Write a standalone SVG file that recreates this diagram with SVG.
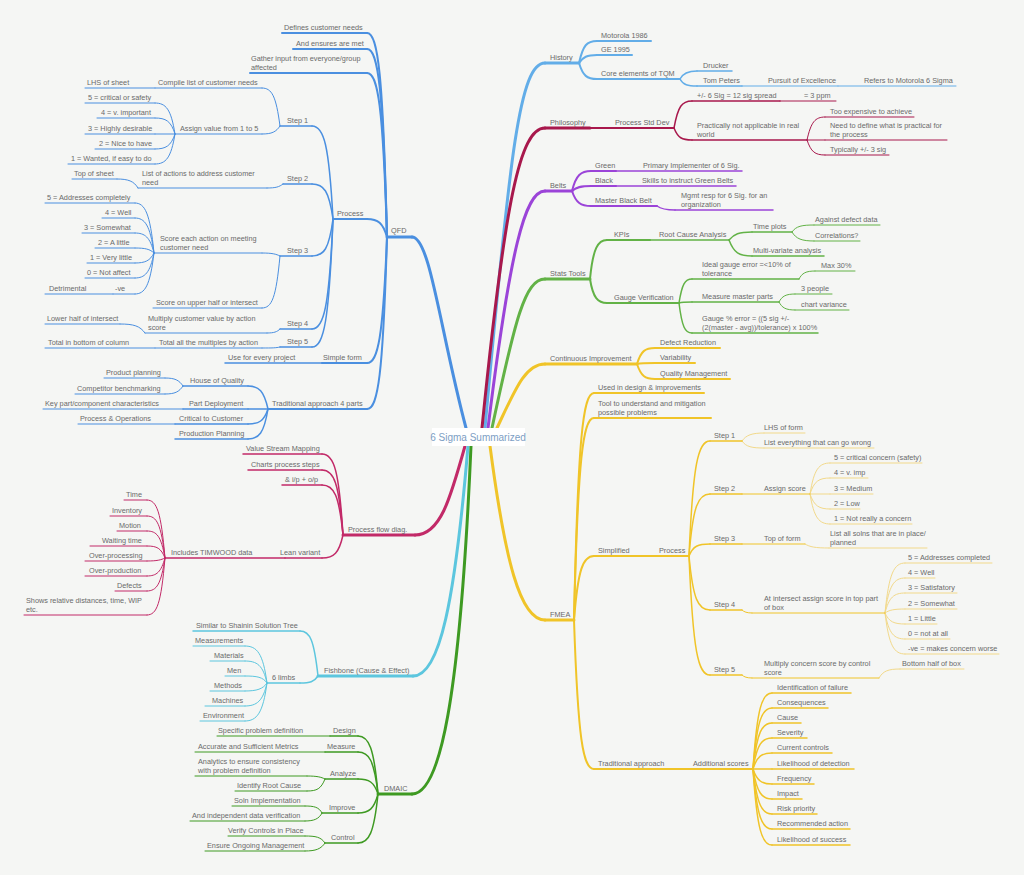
<svg xmlns="http://www.w3.org/2000/svg" width="1024" height="875" viewBox="0 0 1024 875">
<style>
text{font-family:"Liberation Sans",Arial,sans-serif;font-size:7.3px;fill:#6a6a6a;stroke:none}
path{fill:none;stroke-linecap:round}
.bl{stroke:#4a8fe0}.hb{stroke:#62ade8}.ph{stroke:#a8184c}.pu{stroke:#9b44d8}.gr{stroke:#62b246}.yl{stroke:#f0c428}.yp{stroke:#f2d98a}
.pf{stroke:#c22a68}.fb{stroke:#5cc6de}.dm{stroke:#3e9a22}
.w3{stroke-width:3}.w2{stroke-width:2}.w15{stroke-width:1.5}.w1{stroke-width:1}
</style>
<rect width="1024" height="875" fill="#f5f6f4"/>
<g id="connectors">
<path class="bl w3" d="M466 428 C440 330 430 237 412 237"/>
<path class="pf w3" d="M465 446 C450 500 440 535 415 535"/>
<path class="fb w3" d="M468 446 C455 600 440 676 413 676"/>
<path class="dm w3" d="M471 446 C460 700 440 794 412 794"/>
<path class="hb w3" d="M485 428 C510 150 520 63 545 63"/>
<path class="ph w3" d="M482 428 C505 200 520 128 545 128"/>
<path class="pu w3" d="M488 428 C510 250 525 191 545 191"/>
<path class="gr w3" d="M492 428 C515 320 525 279 545 279"/>
<path class="yl w3" d="M497 428 C515 390 525 364 545 364"/>
<path class="yl w3" d="M490 446 C505 560 520 620 545 620"/>
<!-- QFD -->
<path class="bl w2" d="M387 237 C383 74 378 33 367 33"/>
<path class="bl w2" d="M387 237 C383 87 378 49 367 49"/>
<path class="bl w2" d="M387 237 C383 106 378 73 367 73"/>
<path class="bl w2" d="M387 237 C383 223 378 219 367 219"/>
<path class="bl w2" d="M387 237 C383 338 378 363 367 363"/>
<path class="bl w2" d="M387 237 C383 375 378 409 367 409"/>
<path class="bl w15" d="M333 219 C329 145 324 126 312 126"/>
<path class="bl w15" d="M333 219 C329 191 324 184 312 184"/>
<path class="bl w15" d="M333 219 C329 249 324 256 312 256"/>
<path class="bl w15" d="M333 219 C329 307 324 329 312 329"/>
<path class="bl w15" d="M333 219 C329 321 324 347 312 347"/>
<path class="bl w1" d="M280 126 C276 96 272 88 262 88"/>
<path class="bl w1" d="M280 126 C276 132 272 134 262 134"/>
<path class="bl w1" d="M175 134 C171 109 166 103 155 103"/>
<path class="bl w1" d="M175 134 C171 121 166 118 155 118"/>
<path class="bl w1" d="M175 134 H155"/>
<path class="bl w1" d="M175 134 C171 146 166 149 155 149"/>
<path class="bl w1" d="M175 134 C171 158 166 164 155 164"/>
<path class="bl w1" d="M283 184 C279 187 276 188 267 188"/>
<path class="bl w1" d="M138 188 C134 181 128 179 117 179"/>
<path class="bl w1" d="M280 256 C276 254 272 253 262 253"/>
<path class="bl w1" d="M280 256 C276 298 272 308 262 308"/>
<path class="bl w1" d="M154 253 C150 213 145 203 135 203"/>
<path class="bl w1" d="M154 253 C150 225 145 218 135 218"/>
<path class="bl w1" d="M154 253 C150 237 145 233 135 233"/>
<path class="bl w1" d="M154 253 C150 249 145 248 135 248"/>
<path class="bl w1" d="M154 253 C150 261 145 263 135 263"/>
<path class="bl w1" d="M154 253 C150 273 145 278 135 278"/>
<path class="bl w1" d="M154 253 C150 286 145 294 135 294"/>
<path class="bl w1" d="M280 329 C277 332 274 333 267 333"/>
<path class="bl w1" d="M145 333 C140 326 134 324 120 324"/>
<path class="bl w1" d="M280 347 C276 348 272 348 262 348"/>
<path class="bl w15" d="M268 409 C264 391 259 386 248 386"/>
<path class="bl w15" d="M268 409 H248"/>
<path class="bl w15" d="M268 409 C264 421 259 424 248 424"/>
<path class="bl w15" d="M268 409 C264 433 259 439 248 439"/>
<path class="bl w1" d="M183 386 C179 380 175 378 165 378"/>
<path class="bl w1" d="M183 386 C179 392 175 394 165 394"/>
<!-- process flow -->
<path class="pf w15" d="M343 535 C339 470 334 454 322 454"/>
<path class="pf w15" d="M343 535 C339 483 334 470 322 470"/>
<path class="pf w15" d="M343 535 C339 495 334 485 322 485"/>
<path class="pf w15" d="M343 535 C339 553 334 558 322 558"/>
<path class="pf w1" d="M165 558 C161 512 157 500 147 500"/>
<path class="pf w1" d="M165 558 C161 524 157 516 147 516"/>
<path class="pf w1" d="M165 558 C161 536 157 531 147 531"/>
<path class="pf w1" d="M165 558 C161 548 157 546 147 546"/>
<path class="pf w1" d="M165 558 C161 560 157 561 147 561"/>
<path class="pf w1" d="M165 558 C161 572 157 576 147 576"/>
<path class="pf w1" d="M165 558 C161 584 157 591 147 591"/>
<path class="pf w1" d="M165 558 C161 604 157 615 147 615"/>
<!-- fishbone -->
<path class="fb w15" d="M318 676 C314 640 310 631 300 631"/>
<path class="fb w15" d="M318 676 C314 682 310 683 300 683"/>
<path class="fb w1" d="M267 683 C263 653 257 646 245 646"/>
<path class="fb w1" d="M267 683 C263 665 257 661 245 661"/>
<path class="fb w1" d="M267 683 C263 677 257 676 245 676"/>
<path class="fb w1" d="M267 683 C263 689 257 691 245 691"/>
<path class="fb w1" d="M267 683 C263 701 257 706 245 706"/>
<path class="fb w1" d="M267 683 C263 713 257 721 245 721"/>
<!-- DMAIC -->
<path class="dm w15" d="M378 794 C374 748 369 736 358 736"/>
<path class="dm w15" d="M378 794 C374 760 369 752 358 752"/>
<path class="dm w15" d="M378 794 C374 782 369 779 358 779"/>
<path class="dm w15" d="M378 794 C374 809 369 813 358 813"/>
<path class="dm w15" d="M378 794 C374 833 369 843 358 843"/>
<path class="dm w1" d="M325 779 C321 777 317 776 307 776"/>
<path class="dm w1" d="M325 779 C321 789 317 791 307 791"/>
<path class="dm w1" d="M322 813 C319 807 314 806 305 806"/>
<path class="dm w1" d="M322 813 C319 819 314 821 305 821"/>
<path class="dm w1" d="M325 843 C321 837 316 836 305 836"/>
<path class="dm w1" d="M325 843 C321 849 316 851 305 851"/>
<!-- History -->
<path class="hb w2" d="M579 63 C583 45 587 41 597 41"/>
<path class="hb w2" d="M579 63 C583 57 587 55 597 55"/>
<path class="hb w2" d="M579 63 C583 76 587 79 597 79"/>
<path class="hb w15" d="M680 79 C683 73 688 71 697 71"/>
<path class="hb w15" d="M680 79 C683 85 688 86 697 86"/>
<!-- Philosophy -->
<path class="ph w15" d="M674 128 C678 106 682 101 692 101"/>
<path class="ph w15" d="M674 128 C678 138 682 140 692 140"/>
<path class="ph w1" d="M807 140 C811 122 815 117 825 117"/>
<path class="ph w1" d="M807 140 H825"/>
<path class="ph w1" d="M807 140 C811 152 815 155 825 155"/>
<!-- Belts -->
<path class="pu w2" d="M572 191 C576 175 581 171 591 171"/>
<path class="pu w2" d="M572 191 C576 187 581 186 591 186"/>
<path class="pu w2" d="M572 191 C576 203 581 206 591 206"/>
<path class="pu w15" d="M657 206 C661 209 665 210 675 210"/>
<!-- Stats -->
<path class="gr w2" d="M590 279 C593 248 598 240 607 240"/>
<path class="gr w2" d="M590 279 C593 298 598 303 607 303"/>
<path class="gr w15" d="M729 240 C734 234 739 232 752 232"/>
<path class="gr w15" d="M729 240 C734 253 739 256 752 256"/>
<path class="gr w1" d="M792 232 C796 226 802 225 814 225"/>
<path class="gr w1" d="M792 232 C796 239 802 241 814 241"/>
<path class="gr w15" d="M679 303 C682 284 685 279 692 279"/>
<path class="gr w15" d="M679 303 C682 302 685 302 692 302"/>
<path class="gr w15" d="M679 303 C682 327 685 333 692 333"/>
<path class="gr w1" d="M799 279 C802 273 806 271 815 271"/>
<path class="gr w1" d="M779 302 C782 296 786 294 795 294"/>
<path class="gr w1" d="M779 302 C782 308 786 310 795 310"/>
<!-- CI -->
<path class="yl w2" d="M637 364 C641 351 645 348 655 348"/>
<path class="yl w2" d="M637 364 C641 363 645 363 655 363"/>
<path class="yl w2" d="M637 364 C641 376 645 379 655 379"/>
<!-- FMEA -->
<path class="yl w2" d="M574 620 C578 438 583 393 594 393"/>
<path class="yl w2" d="M574 620 C578 458 583 418 594 418"/>
<path class="yl w2" d="M574 620 C578 569 583 556 594 556"/>
<path class="yl w2" d="M574 620 C578 739 583 769 594 769"/>
<path class="yl w15" d="M689 556 C693 464 698 441 710 441"/>
<path class="yl w15" d="M689 556 C693 506 698 494 710 494"/>
<path class="yl w15" d="M689 556 C693 546 698 544 710 544"/>
<path class="yl w15" d="M689 556 C693 599 698 610 710 610"/>
<path class="yl w15" d="M689 556 C693 651 698 675 710 675"/>
<path class="yp w1" d="M742 441 C746 435 752 433 764 433"/>
<path class="yp w1" d="M742 441 C746 447 752 448 764 448"/>
<path class="yp w1" d="M810 494 C814 469 819 463 830 463"/>
<path class="yp w1" d="M810 494 C814 481 819 478 830 478"/>
<path class="yp w1" d="M810 494 H830"/>
<path class="yp w1" d="M810 494 C814 506 819 509 830 509"/>
<path class="yp w1" d="M810 494 C814 518 819 524 830 524"/>
<path class="yp w1" d="M805 544 C810 547 815 548 829 548"/>
<path class="yl w1" d="M742 610 C744 612 747 613 752 613"/>
<path class="yp w1" d="M885 613 C889 573 894 563 905 563"/>
<path class="yp w1" d="M885 613 C889 585 894 578 905 578"/>
<path class="yp w1" d="M885 613 C889 597 894 593 905 593"/>
<path class="yp w1" d="M885 613 C889 610 894 609 905 609"/>
<path class="yp w1" d="M885 613 C889 622 894 624 905 624"/>
<path class="yp w1" d="M885 613 C889 634 894 639 905 639"/>
<path class="yp w1" d="M885 613 C889 646 894 654 905 654"/>
<path class="yl w1" d="M742 675 C744 677 747 678 752 678"/>
<path class="yp w1" d="M879 678 C883 671 888 669 900 669"/>
<path class="yl w15" d="M753 769 C757 708 762 693 772 693"/>
<path class="yl w15" d="M753 769 C757 720 762 708 772 708"/>
<path class="yl w15" d="M753 769 C757 732 762 723 772 723"/>
<path class="yl w15" d="M753 769 C757 744 762 738 772 738"/>
<path class="yl w15" d="M753 769 C757 756 762 753 772 753"/>
<path class="yl w15" d="M753 769 H772"/>
<path class="yl w15" d="M753 769 C757 781 762 784 772 784"/>
<path class="yl w15" d="M753 769 C757 793 762 799 772 799"/>
<path class="yl w15" d="M753 769 C757 805 762 814 772 814"/>
<path class="yl w15" d="M753 769 C757 817 762 829 772 829"/>
<path class="yl w15" d="M753 769 C757 830 762 845 772 845"/>
</g>

<g id="root"><rect x="432" y="428" width="93" height="18" fill="#ffffff"/><text x="478" y="441" text-anchor="middle" style="font-size:10px;fill:#7d9ec4">6 Sigma Summarized</text></g>

<!-- QFD branch -->
<g id="qfd" class="bl w3"><path d="M387 237 H412"/><text x="391" y="233">QFD</text></g>
<g id="q1" class="bl w2"><path d="M282 33 H367"/><text x="284" y="30">Defines customer needs</text></g>
<g id="q2" class="bl w2"><path d="M293 49 H367"/><text x="296" y="46">And ensures are met</text></g>
<g id="q3" class="bl w2"><path d="M250 73 H367"/><text x="251" y="61">Gather input from everyone/group</text><text x="251" y="70">affected</text></g>
<g id="q4" class="bl w2"><path d="M333 219 H367"/><text x="337" y="216">Process</text></g>
<g id="q5" class="bl w2"><path d="M322 363 H367"/><text x="323" y="360">Simple form</text></g>
<g id="q6" class="bl w2"><path d="M268 409 H367"/><text x="272" y="406">Traditional approach 4 parts</text></g>
<g id="s1" class="bl w15"><path d="M280 126 H312"/><text x="287" y="123">Step 1</text></g>
<g id="s2" class="bl w15"><path d="M283 184 H312"/><text x="287" y="181">Step 2</text></g>
<g id="s3" class="bl w15"><path d="M280 256 H312"/><text x="287" y="253">Step 3</text></g>
<g id="s4" class="bl w15"><path d="M280 329 H312"/><text x="287" y="326">Step 4</text></g>
<g id="s5" class="bl w15"><path d="M280 347 H312"/><text x="287" y="344">Step 5</text></g>
<g id="s1a" class="bl w1"><path d="M155 88 H262"/><text x="158" y="85">Compile list of customer needs</text></g>
<g id="s1a1" class="bl w1"><path d="M85 88 H155"/><text x="87" y="85">LHS of sheet</text></g>
<g id="s1b" class="bl w1"><path d="M175 134 H262"/><text x="180" y="131">Assign value from 1 to 5</text></g>
<g id="v5" class="bl w1"><path d="M85 103 H155"/><text x="88" y="100">5 = critical or safety</text></g>
<g id="v4" class="bl w1"><path d="M97 118 H155"/><text x="101" y="115">4 = v. important</text></g>
<g id="v3" class="bl w1"><path d="M85 134 H155"/><text x="88" y="131">3 = Highly desirable</text></g>
<g id="v2" class="bl w1"><path d="M95 149 H155"/><text x="99" y="146">2 = Nice to have</text></g>
<g id="v1" class="bl w1"><path d="M68 164 H155"/><text x="71" y="161">1 = Wanted, if easy to do</text></g>
<g id="s2a" class="bl w1"><path d="M138 188 H267"/><text x="142" y="176">List of actions to address customer</text><text x="142" y="185">need</text></g>
<g id="s2a1" class="bl w1"><path d="M72 179 H117"/><text x="74" y="176">Top of sheet</text></g>
<g id="s3a" class="bl w1"><path d="M154 253 H262"/><text x="160" y="241">Score each action on meeting</text><text x="160" y="250">customer need</text></g>
<g id="s3b" class="bl w1"><path d="M153 308 H262"/><text x="156" y="305">Score on upper half or intersect</text></g>
<g id="a5" class="bl w1"><path d="M45 203 H135"/><text x="47" y="200">5 = Addresses completely</text></g>
<g id="a4" class="bl w1"><path d="M102 218 H135"/><text x="105" y="215">4 = Well</text></g>
<g id="a3" class="bl w1"><path d="M82 233 H135"/><text x="84" y="230">3 = Somewhat</text></g>
<g id="a2" class="bl w1"><path d="M95 248 H135"/><text x="98" y="245">2 = A little</text></g>
<g id="a1" class="bl w1"><path d="M87 263 H135"/><text x="90" y="260">1 = Very little</text></g>
<g id="a0" class="bl w1"><path d="M85 278 H135"/><text x="87" y="275">0 = Not affect</text></g>
<g id="an" class="bl w1"><path d="M113 294 H135"/><text x="115" y="291">-ve</text></g>
<g id="an1" class="bl w1"><path d="M45 294 H113"/><text x="49" y="291">Detrimental</text></g>
<g id="s4a" class="bl w1"><path d="M145 333 H267"/><text x="148" y="321">Multiply customer value by action</text><text x="148" y="330">score</text></g>
<g id="s4a1" class="bl w1"><path d="M45 324 H120"/><text x="47" y="321">Lower half of intersect</text></g>
<g id="s5a" class="bl w1"><path d="M155 348 H262"/><text x="159" y="345">Total all the multiples by action</text></g>
<g id="s5a1" class="bl w1"><path d="M45 348 H155"/><text x="48" y="345">Total in bottom of column</text></g>
<g id="q5a" class="bl w15"><path d="M225 363 H322"/><text x="228" y="360">Use for every project</text></g>
<g id="t1" class="bl w15"><path d="M183 386 H248"/><text x="190" y="383">House of Quality</text></g>
<g id="t1a" class="bl w1"><path d="M104 378 H165"/><text x="106" y="375">Product planning</text></g>
<g id="t1b" class="bl w1"><path d="M75 394 H165"/><text x="77" y="391">Competitor benchmarking</text></g>
<g id="t2" class="bl w15"><path d="M183 409 H248"/><text x="189" y="406">Part Deployment</text></g>
<g id="t2a" class="bl w1"><path d="M43 409 H183"/><text x="45" y="406">Key part/component characteristics</text></g>
<g id="t3" class="bl w15"><path d="M175 424 H248"/><text x="179" y="421">Critical to Customer</text></g>
<g id="t3a" class="bl w1"><path d="M78 424 H175"/><text x="80" y="421">Process &amp; Operations</text></g>
<g id="t4" class="bl w15"><path d="M175 439 H248"/><text x="179" y="436">Production Planning</text></g>

<!-- process flow -->
<g id="pf" class="pf w3"><path d="M343 535 H415"/><text x="348" y="532">Process flow diag.</text></g>
<g id="pf1" class="pf w15"><path d="M243 454 H322"/><text x="246" y="451">Value Stream Mapping</text></g>
<g id="pf2" class="pf w15"><path d="M248 470 H322"/><text x="251" y="467">Charts process steps</text></g>
<g id="pf3" class="pf w15"><path d="M282 485 H322"/><text x="285" y="482">&amp; i/p + o/p</text></g>
<g id="pf4" class="pf w15"><path d="M285 558 H322"/><text x="280" y="555">Lean variant</text></g>
<g id="pf4a" class="pf w15"><path d="M165 558 H285"/><text x="171" y="555">Includes TIMWOOD data</text></g>
<g id="tw1" class="pf w1"><path d="M124 500 H147"/><text x="126" y="497">Time</text></g>
<g id="tw2" class="pf w1"><path d="M110 516 H147"/><text x="112" y="513">Inventory</text></g>
<g id="tw3" class="pf w1"><path d="M117 531 H147"/><text x="119" y="528">Motion</text></g>
<g id="tw4" class="pf w1"><path d="M90 546 H147"/><text x="102" y="543">Waiting time</text></g>
<g id="tw5" class="pf w1"><path d="M85 561 H147"/><text x="89" y="558">Over-processing</text></g>
<g id="tw6" class="pf w1"><path d="M85 576 H147"/><text x="89" y="573">Over-production</text></g>
<g id="tw7" class="pf w1"><path d="M115 591 H147"/><text x="117" y="588">Defects</text></g>
<g id="tw8" class="pf w1"><path d="M24 615 H147"/><text x="26" y="603">Shows relative distances, time, WIP</text><text x="26" y="612">etc.</text></g>

<!-- fishbone -->
<g id="fb" class="fb w3"><path d="M318 676 H413"/><text x="324" y="673">Fishbone (Cause &amp; Effect)</text></g>
<g id="fb1" class="fb w15"><path d="M193 631 H300"/><text x="196" y="628">Similar to Shainin Solution Tree</text></g>
<g id="fb2" class="fb w15"><path d="M267 683 H300"/><text x="272" y="680">6 limbs</text></g>
<g id="l1" class="fb w1"><path d="M193 646 H245"/><text x="195" y="643">Measurements</text></g>
<g id="l2" class="fb w1"><path d="M210 661 H245"/><text x="214" y="658">Materials</text></g>
<g id="l3" class="fb w1"><path d="M225 676 H245"/><text x="227" y="673">Men</text></g>
<g id="l4" class="fb w1"><path d="M210 691 H245"/><text x="214" y="688">Methods</text></g>
<g id="l5" class="fb w1"><path d="M205 706 H245"/><text x="212" y="703">Machines</text></g>
<g id="l6" class="fb w1"><path d="M200 721 H245"/><text x="203" y="718">Environment</text></g>

<!-- DMAIC -->
<g id="dm" class="dm w3"><path d="M378 794 H412"/><text x="384" y="791">DMAIC</text></g>
<g id="d1" class="dm w15"><path d="M330 736 H358"/><text x="333" y="733">Design</text></g>
<g id="d1a" class="dm w1"><path d="M217 736 H330"/><text x="218" y="733">Specific problem definition</text></g>
<g id="d2" class="dm w15"><path d="M325 752 H358"/><text x="327" y="749">Measure</text></g>
<g id="d2a" class="dm w1"><path d="M195 752 H325"/><text x="198" y="749">Accurate and Sufficient Metrics</text></g>
<g id="d3" class="dm w15"><path d="M325 779 H358"/><text x="330" y="776">Analyze</text></g>
<g id="d3a" class="dm w1"><path d="M195 776 H307"/><text x="198" y="764">Analytics to ensure consistency</text><text x="198" y="773">with problem definition</text></g>
<g id="d3b" class="dm w1"><path d="M235 791 H307"/><text x="237" y="788">Identify Root Cause</text></g>
<g id="d4" class="dm w15"><path d="M322 813 H358"/><text x="329" y="810">Improve</text></g>
<g id="d4a" class="dm w1"><path d="M232 806 H305"/><text x="234" y="803">Soln Implementation</text></g>
<g id="d4b" class="dm w1"><path d="M190 821 H305"/><text x="192" y="818">And independent data verification</text></g>
<g id="d5" class="dm w15"><path d="M325 843 H358"/><text x="331" y="840">Control</text></g>
<g id="d5a" class="dm w1"><path d="M228 836 H305"/><text x="228" y="833">Verify Controls in Place</text></g>
<g id="d5b" class="dm w1"><path d="M205 851 H305"/><text x="207" y="848">Ensure Ongoing Management</text></g>

<!-- History -->
<g id="hi" class="hb w3"><path d="M545 63 H579"/><text x="550" y="60">History</text></g>
<g id="h1" class="hb w2"><path d="M597 41 H651"/><text x="601" y="38">Motorola 1986</text></g>
<g id="h2" class="hb w2"><path d="M597 55 H632"/><text x="601" y="52">GE 1995</text></g>
<g id="h3" class="hb w2"><path d="M597 79 H680"/><text x="601" y="76">Core elements of TQM</text></g>
<g id="h3a" class="hb w15"><path d="M697 71 H732"/><text x="703" y="68">Drucker</text></g>
<g id="h3b" class="hb w15"><path d="M697 86 H742"/><text x="703" y="83">Tom Peters</text></g>
<g id="h3b1" class="hb w1"><path d="M742 86 H838"/><text x="768" y="83">Pursuit of Excellence</text></g>
<g id="h3b2" class="hb w1"><path d="M838 86 H956"/><text x="864" y="83">Refers to Motorola 6 Sigma</text></g>

<!-- Philosophy -->
<g id="ph" class="ph w3"><path d="M545 128 H590"/><text x="550" y="125">Philosophy</text></g>
<g id="ph1" class="ph w2"><path d="M590 128 H674"/><text x="615" y="125">Process Std Dev</text></g>
<g id="ph1a" class="ph w15"><path d="M692 101 H780"/><text x="697" y="98">+/- 6 Sig = 12 sig spread</text></g>
<g id="ph1a1" class="ph w1"><path d="M780 101 H836"/><text x="804" y="98">= 3 ppm</text></g>
<g id="ph1b" class="ph w15"><path d="M692 140 H807"/><text x="697" y="128">Practically not applicable in real</text><text x="697" y="137">world</text></g>
<g id="ph2a" class="ph w1"><path d="M825 117 H914"/><text x="830" y="114">Too expensive to achieve</text></g>
<g id="ph2b" class="ph w1"><path d="M825 140 H947"/><text x="830" y="128">Need to define what is practical for</text><text x="830" y="137">the process</text></g>
<g id="ph2c" class="ph w1"><path d="M825 155 H889"/><text x="830" y="152">Typically +/- 3 sig</text></g>

<!-- Belts -->
<g id="be" class="pu w3"><path d="M545 191 H572"/><text x="550" y="188">Belts</text></g>
<g id="b1" class="pu w2"><path d="M591 171 H616"/><text x="595" y="168">Green</text></g>
<g id="b1a" class="pu w15"><path d="M616 171 H742"/><text x="643" y="168">Primary Implementer of 6 Sig.</text></g>
<g id="b2" class="pu w2"><path d="M591 186 H616"/><text x="595" y="183">Black</text></g>
<g id="b2a" class="pu w15"><path d="M616 186 H736"/><text x="642" y="183">Skills to instruct Green Belts</text></g>
<g id="b3" class="pu w2"><path d="M591 206 H657"/><text x="595" y="203">Master Black Belt</text></g>
<g id="b3a" class="pu w15"><path d="M675 210 H773"/><text x="681" y="198">Mgmt resp for 6 Sig. for an</text><text x="681" y="207">organization</text></g>

<!-- Stats -->
<g id="st" class="gr w3"><path d="M545 279 H590"/><text x="550" y="276">Stats Tools</text></g>
<g id="k" class="gr w2"><path d="M607 240 H650"/><text x="614" y="237">KPIs</text></g>
<g id="k1" class="gr w15"><path d="M650 240 H729"/><text x="659" y="237">Root Cause Analysis</text></g>
<g id="k1a" class="gr w15"><path d="M752 232 H792"/><text x="753" y="229">Time plots</text></g>
<g id="k1a1" class="gr w1"><path d="M814 225 H880"/><text x="815" y="222">Against defect data</text></g>
<g id="k1a2" class="gr w1"><path d="M814 241 H860"/><text x="815" y="238">Correlations?</text></g>
<g id="k1b" class="gr w15"><path d="M752 256 H824"/><text x="753" y="253">Multi-variate analysis</text></g>
<g id="gv" class="gr w2"><path d="M607 303 H679"/><text x="614" y="300">Gauge Verification</text></g>
<g id="gv1" class="gr w15"><path d="M692 279 H799"/><text x="702" y="267">Ideal gauge error =&lt;10% of</text><text x="702" y="276">tolerance</text></g>
<g id="gv1a" class="gr w1"><path d="M815 271 H855"/><text x="821" y="268">Max 30%</text></g>
<g id="gv2" class="gr w15"><path d="M692 302 H779"/><text x="702" y="299">Measure master parts</text></g>
<g id="gv2a" class="gr w1"><path d="M795 294 H832"/><text x="801" y="291">3 people</text></g>
<g id="gv2b" class="gr w1"><path d="M795 310 H849"/><text x="801" y="307">chart variance</text></g>
<g id="gv3" class="gr w15"><path d="M692 333 H818"/><text x="702" y="321">Gauge % error = ((5 sig +/-</text><text x="702" y="330">(2(master - avg))/tolerance) x 100%</text></g>

<!-- CI -->
<g id="ci" class="yl w3"><path d="M545 364 H637"/><text x="550" y="361">Continuous Improvement</text></g>
<g id="ci1" class="yl w2"><path d="M655 348 H720"/><text x="660" y="345">Defect Reduction</text></g>
<g id="ci2" class="yl w2"><path d="M655 363 H695"/><text x="660" y="360">Variability</text></g>
<g id="ci3" class="yl w2"><path d="M655 379 H730"/><text x="660" y="376">Quality Management</text></g>

<!-- FMEA -->
<g id="fm" class="yl w3"><path d="M545 620 H574"/><text x="550" y="617">FMEA</text></g>
<g id="fm1" class="yl w2"><path d="M594 393 H704"/><text x="598" y="390">Used in design &amp; improvements</text></g>
<g id="fm2" class="yl w2"><path d="M594 418 H711"/><text x="598" y="406">Tool to understand and mitigation</text><text x="598" y="415">possible problems</text></g>
<g id="fm3" class="yl w2"><path d="M594 556 H655"/><text x="598" y="553">Simplified</text></g>
<g id="fm3a" class="yl w2"><path d="M655 556 H689"/><text x="659" y="553">Process</text></g>
<g id="p1" class="yl w15"><path d="M710 441 H742"/><text x="714" y="438">Step 1</text></g>
<g id="p1a" class="yp w1"><path d="M764 433 H805"/><text x="764" y="430">LHS of form</text></g>
<g id="p1b" class="yp w1"><path d="M764 448 H874"/><text x="764" y="445">List everything that can go wrong</text></g>
<g id="p2" class="yl w15"><path d="M710 494 H742"/><text x="714" y="491">Step 2</text></g>
<g id="p2a" class="yl w1"><path d="M742 494 H810"/><text x="764" y="491">Assign score</text></g>
<g id="c5" class="yp w1"><path d="M830 463 H922"/><text x="834" y="460">5 = critical concern (safety)</text></g>
<g id="c4" class="yp w1"><path d="M830 478 H868"/><text x="834" y="475">4 = v. imp</text></g>
<g id="c3" class="yp w1"><path d="M830 494 H873"/><text x="834" y="491">3 = Medium</text></g>
<g id="c2" class="yp w1"><path d="M830 509 H860"/><text x="834" y="506">2 = Low</text></g>
<g id="c1" class="yp w1"><path d="M830 524 H912"/><text x="834" y="521">1 = Not really a concern</text></g>
<g id="p3" class="yl w15"><path d="M710 544 H742"/><text x="714" y="541">Step 3</text></g>
<g id="p3a" class="yl w1"><path d="M742 544 H805"/><text x="764" y="541">Top of form</text></g>
<g id="p3a1" class="yp w1"><path d="M829 548 H927"/><text x="830" y="536">List all solns that are in place/</text><text x="830" y="545">planned</text></g>
<g id="p4" class="yl w15"><path d="M710 610 H742"/><text x="714" y="607">Step 4</text></g>
<g id="p4a" class="yl w1"><path d="M752 613 H885"/><text x="764" y="601">At intersect assign score in top part</text><text x="764" y="610">of box</text></g>
<g id="e5" class="yp w1"><path d="M905 563 H992"/><text x="908" y="560">5 = Addresses completed</text></g>
<g id="e4" class="yp w1"><path d="M905 578 H935"/><text x="908" y="575">4 = Well</text></g>
<g id="e3" class="yp w1"><path d="M905 593 H957"/><text x="908" y="590">3 = Satisfatory</text></g>
<g id="e2" class="yp w1"><path d="M905 609 H957"/><text x="908" y="606">2 = Somewhat</text></g>
<g id="e1" class="yp w1"><path d="M905 624 H937"/><text x="908" y="621">1 = Little</text></g>
<g id="e0" class="yp w1"><path d="M905 639 H950"/><text x="908" y="636">0 = not at all</text></g>
<g id="en" class="yp w1"><path d="M905 654 H999"/><text x="908" y="651">-ve = makes concern worse</text></g>
<g id="p5" class="yl w15"><path d="M710 675 H742"/><text x="714" y="672">Step 5</text></g>
<g id="p5a" class="yl w1"><path d="M752 678 H879"/><text x="764" y="666">Multiply concern score by control</text><text x="764" y="675">score</text></g>
<g id="p5a1" class="yp w1"><path d="M900 669 H964"/><text x="902" y="666">Bottom half of box</text></g>
<g id="fm4" class="yl w2"><path d="M594 769 H664"/><text x="598" y="766">Traditional approach</text></g>
<g id="fm4a" class="yl w2"><path d="M664 769 H753"/><text x="693" y="766">Additional scores</text></g>
<g id="x1" class="yl w15"><path d="M772 693 H851"/><text x="777" y="690">Identification of failure</text></g>
<g id="x2" class="yl w15"><path d="M772 708 H828"/><text x="777" y="705">Consequences</text></g>
<g id="x3" class="yl w15"><path d="M772 723 H801"/><text x="777" y="720">Cause</text></g>
<g id="x4" class="yl w15"><path d="M772 738 H807"/><text x="777" y="735">Severity</text></g>
<g id="x5" class="yl w15"><path d="M772 753 H832"/><text x="777" y="750">Current controls</text></g>
<g id="x6" class="yl w15"><path d="M772 769 H854"/><text x="777" y="766">Likelihood of detection</text></g>
<g id="x7" class="yl w15"><path d="M772 784 H814"/><text x="777" y="781">Frequency</text></g>
<g id="x8" class="yl w15"><path d="M772 799 H802"/><text x="777" y="796">Impact</text></g>
<g id="x9" class="yl w15"><path d="M772 814 H817"/><text x="777" y="811">Risk priority</text></g>
<g id="x10" class="yl w15"><path d="M772 829 H850"/><text x="777" y="826">Recommended action</text></g>
<g id="x11" class="yl w15"><path d="M772 845 H850"/><text x="777" y="842">Likelihood of success</text></g>
</svg>
